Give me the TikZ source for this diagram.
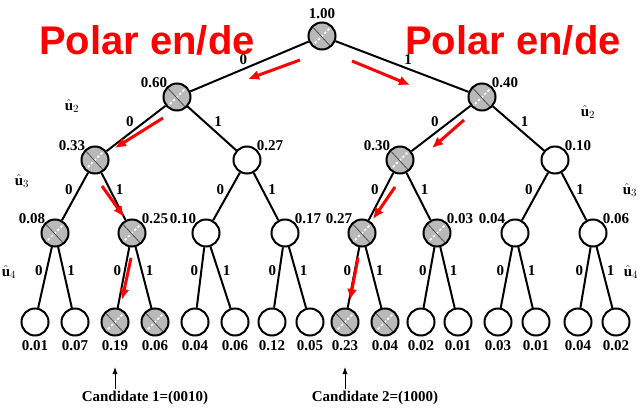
\documentclass[tikz,border=0pt]{standalone}
\usepackage{fontspec}
\setmainfont{Liberation Serif}
\newfontfamily\sansb{Liberation Sans}
\usetikzlibrary{arrows.meta}
\begin{document}
\begin{tikzpicture}[x=1pt,y=-1pt,
  nd/.style={circle,draw,line width=2pt,minimum size=27pt,inner sep=0pt,fill=white},
  sh/.style={nd,fill=gray!55,path picture={\draw[white,line width=1.5pt,dash pattern=on 2.5pt off 2pt] (path picture bounding box.south west)--(path picture bounding box.north east);
     \draw[black!70,line width=0.8pt] ([xshift=-2pt]path picture bounding box.south east)--(path picture bounding box.north west);}},
  val/.style={font=\bfseries\fontsize{15}{15}\selectfont},
  bit/.style={font=\bfseries\fontsize{15}{15}\selectfont,fill=none},
  b0/.style={above left=-2pt},
  b1/.style={above right=-2pt},
  ed/.style={line width=2pt},
  ra/.style={red,line width=3pt,-{Latex[length=11pt,width=10pt]}},
  pol/.style={red,font=\sansb\bfseries\fontsize{40}{40}\selectfont}]
\useasboundingbox (0,0) rectangle (641,409);
\node[sh] (r) at (322,36) {};
\node[sh] (a) at (177,97) {}; \node[sh] (b) at (482,97) {};
\node[sh] (aa) at (95,160) {}; \node[nd] (ab) at (247,160) {};
\node[sh] (ba) at (400,160) {}; \node[nd] (bb) at (555,160) {};
\foreach \n/\x/\s in {c1/55/sh,c2/132/sh,c3/206/nd,c4/285/nd,c5/362/sh,c6/437/sh,c7/515/nd,c8/593/nd}
  \node[\s] (\n) at (\x,233) {};
\foreach \n/\x/\s in {l1/35/nd,l2/75/nd,l3/115/sh,l4/155/sh,l5/195/nd,l6/235/nd,l7/272/nd,l8/310/nd,l9/345/sh,l10/385/sh,l11/421/nd,l12/458/nd,l13/498/nd,l14/536/nd,l15/578/nd,l16/616/nd}
  \node[\s] (\n) at (\x,322) {};
% edges
\foreach \p/\c/\b in {r/a/0,r/b/1,a/aa/0,a/ab/1,b/ba/0,b/bb/1,aa/c1/0,aa/c2/1,ab/c3/0,ab/c4/1,ba/c5/0,ba/c6/1,bb/c7/0,bb/c8/1,
  c1/l1/0,c1/l2/1,c2/l3/0,c2/l4/1,c3/l5/0,c3/l6/1,c4/l7/0,c4/l8/1,c5/l9/0,c5/l10/1,c6/l11/0,c6/l12/1,c7/l13/0,c7/l14/1,c8/l15/0,c8/l16/1}
  \draw[ed] (\p) -- (\c) node[bit,midway,b\b] {\b};
% values
\node[val,above=-1pt] at (r.north) {1.00};
\node[val,above left=-4pt] at (a.north west) {0.60};
\node[val,above right=-4pt] at (b.north east) {0.40};
\foreach \n/\v in {aa/0.33,ba/0.30,c1/0.08,c3/0.10,c5/0.27,c7/0.04}
  \node[val,above left=-4pt] at (\n.north west) {\v};
\foreach \n/\v in {ab/0.27,bb/0.10,c2/0.25,c4/0.17,c6/0.03,c8/0.06}
  \node[val,above right=-4pt] at (\n.north east) {\v};
\foreach \n/\v in {l1/0.01,l2/0.07,l3/0.19,l4/0.06,l5/0.04,l6/0.06,l7/0.12,l8/0.05,l9/0.23,l10/0.04,l11/0.02,l12/0.01,l13/0.03,l14/0.01,l15/0.04,l16/0.02}
  \node[val,below=0pt] at (\n.south) {\v};
% u hats
\node[val] (u2l) at (72,106) {$\hat{\mathbf{u}}_2$};
\node[val] (u3l) at (22,181) {$\hat{\mathbf{u}}_3$};
\node[val] (u4l) at (9,272) {$\hat{\mathbf{u}}_4$};
\node[val] (u2r) at (588,112) {$\hat{\mathbf{u}}_2$};
\node[val] (u3r) at (630,190) {$\hat{\mathbf{u}}_3$};
\node[val] (u4r) at (631,272) {$\hat{\mathbf{u}}_4$};
% red arrows
\coordinate (s1) at (300,60); \coordinate (e1) at (248,79);
\coordinate (s2) at (352,61); \coordinate (e2) at (410,85);
\coordinate (s3) at (163,118); \coordinate (e3) at (115,148);
\coordinate (s4) at (102,186); \coordinate (e4) at (124,217);
\coordinate (s5) at (131,258); \coordinate (e5) at (122,300);
\coordinate (s6) at (464,120); \coordinate (e6) at (432,148);
\coordinate (s7) at (395,187); \coordinate (e7) at (373,219);
\coordinate (s8) at (358,258); \coordinate (e8) at (350,300);
\foreach \i in {1,...,8} \draw[ra] (s\i) -- (e\i);
\node[pol] (p1) at (147,40) {Polar en/de};
\node[pol] (p2) at (513,40) {Polar en/de};
% candidates
\node[font=\bfseries\fontsize{15}{15}\selectfont] (k1) at (145,398) {Candidate 1=(0010)};
\node[font=\bfseries\fontsize{15}{15}\selectfont] (k2) at (375,398) {Candidate 2=(1000)};
\coordinate (t1) at (115,389); \coordinate (t2) at (345,389);
\draw[line width=1pt,-{Latex[length=7pt]}] (t1) -- ++(0,-22);
\draw[line width=1pt,-{Latex[length=7pt]}] (t2) -- ++(0,-22);
\end{tikzpicture}
\end{document}
